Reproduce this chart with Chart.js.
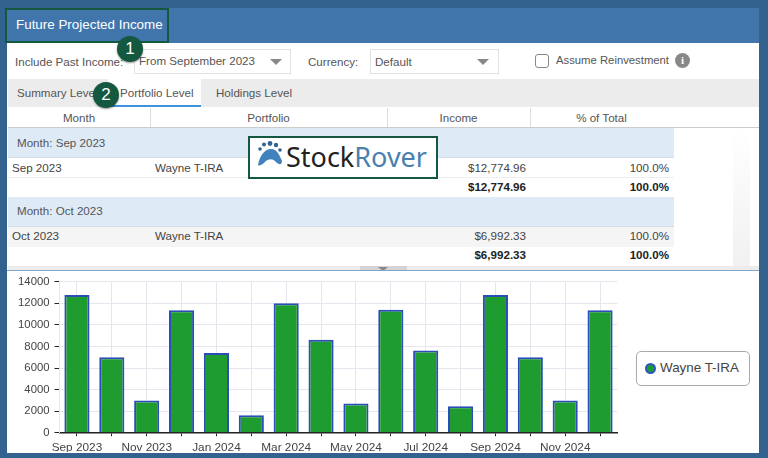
<!DOCTYPE html>
<html>
<head>
<meta charset="utf-8">
<title>Future Projected Income</title>
<script src="https://cdn.jsdelivr.net/npm/chart.js@4"></script>
<style>
html,body{margin:0;padding:0;}
body{width:768px;height:458px;overflow:hidden;background:#33628f;font-family:"Liberation Sans",Arial,sans-serif;color:#555;position:relative;}
.a{position:absolute;white-space:nowrap;}
.box{background:#fff;border:1px solid #e2e2e2;box-sizing:border-box;}
.arrow{position:absolute;width:0;height:0;border-left:6px solid transparent;border-right:6px solid transparent;border-top:6px solid #888;}
.badge{position:absolute;width:26px;height:26px;border-radius:50%;background:#14593f;color:#fff;font-size:17px;line-height:26px;text-align:center;box-shadow:0 1px 2px rgba(0,0,0,.4);}
.sep{position:absolute;top:108px;width:1px;height:19px;background:#ddd;}
.head{top:111px;font-size:11.6px;color:#555;text-align:center;}
.t{font-size:11.6px;}
.cell{font-size:11.6px;color:#444;}
.r{text-align:right;}
.b{font-weight:bold;color:#222;}
#chartBox{position:absolute;left:7px;top:270px;width:620px;height:182px;}
</style>
</head>
<body>
<!-- panel -->
<div class="a" style="left:7px;top:8px;width:752px;height:35px;background:#4176ad;"></div>
<div class="a" style="left:7px;top:43px;width:752px;height:410px;background:#fff;"></div>
<div class="a" style="left:5px;top:8px;width:164px;height:35px;box-sizing:border-box;border:2px solid #14593f;"></div>
<div class="a" style="left:16px;top:17px;font-size:13.4px;color:#fff;">Future Projected Income</div>

<!-- toolbar -->
<div class="a t" style="left:15px;top:55px;">Include Past Income:</div>
<div class="a box" style="left:134px;top:49px;width:157px;height:25px;"></div>
<div class="a t" style="left:139px;top:54px;">From September 2023</div>
<div class="arrow" style="left:270px;top:59px;"></div>
<div class="a t" style="left:308px;top:55px;">Currency:</div>
<div class="a box" style="left:370px;top:49px;width:129px;height:25px;"></div>
<div class="a t" style="left:375px;top:55px;">Default</div>
<div class="arrow" style="left:477px;top:59px;"></div>
<div class="a" style="left:535px;top:54px;width:12px;height:12px;border:1px solid #888;border-radius:3px;"></div>
<div class="a" style="left:556px;top:54px;font-size:11.3px;">Assume Reinvestment</div>
<div class="a" style="left:675px;top:53px;width:15px;height:15px;border-radius:50%;background:#888;color:#fff;font:bold 11px/15px 'Liberation Serif',serif;text-align:center;">i</div>

<!-- tabs -->
<div class="a" style="left:8px;top:79px;width:751px;height:28px;background:#ececec;"></div>
<div class="a" style="left:108px;top:79px;width:93px;height:28px;box-sizing:border-box;background:#fff;border-bottom:2px solid #3f93dc;"></div>
<div class="a t" style="left:17px;top:86px;">Summary Level</div>
<div class="a t" style="left:120px;top:86px;">Portfolio Level</div>
<div class="a t" style="left:216px;top:86px;">Holdings Level</div>

<!-- grid header -->
<div class="a" style="left:8px;top:127px;width:751px;height:1px;background:#ccc;"></div>
<div class="sep" style="left:150px;"></div>
<div class="sep" style="left:387px;"></div>
<div class="sep" style="left:530px;"></div>
<div class="a head" style="left:8px;width:142px;">Month</div>
<div class="a head" style="left:150px;width:237px;">Portfolio</div>
<div class="a head" style="left:387px;width:143px;">Income</div>
<div class="a head" style="left:530px;width:143px;">% of Total</div>

<!-- grid rows -->
<div class="a" style="left:733px;top:128px;width:17px;height:138px;background:linear-gradient(180deg,#fff 0,#f1f1f1 100%);"></div>
<div class="a" style="left:8px;top:128px;width:666px;height:30px;background:#deebf7;border-bottom:1px solid #d6dfe8;box-sizing:border-box;"></div>
<div class="a t" style="left:17px;top:136px;">Month: Sep 2023</div>
<div class="a cell" style="left:12px;top:161px;">Sep 2023</div>
<div class="a cell" style="left:155px;top:161px;">Wayne T-IRA</div>
<div class="a cell r" style="left:387px;top:161px;width:139px;">$12,774.96</div>
<div class="a cell r" style="left:530px;top:161px;width:139px;">100.0%</div>
<div class="a" style="left:8px;top:177px;width:666px;height:1px;background:#eee;"></div>
<div class="a cell r b" style="left:387px;top:180px;width:139px;">$12,774.96</div>
<div class="a cell r b" style="left:530px;top:180px;width:139px;">100.0%</div>
<div class="a" style="left:8px;top:197px;width:666px;height:30px;background:#deebf7;border-bottom:1px solid #d6dfe8;box-sizing:border-box;"></div>
<div class="a t" style="left:17px;top:204px;">Month: Oct 2023</div>
<div class="a" style="left:8px;top:227px;width:666px;height:20px;background:#f5f5f5;"></div>
<div class="a cell" style="left:12px;top:229px;">Oct 2023</div>
<div class="a cell" style="left:155px;top:229px;">Wayne T-IRA</div>
<div class="a cell r" style="left:387px;top:229px;width:139px;">$6,992.33</div>
<div class="a cell r" style="left:530px;top:229px;width:139px;">100.0%</div>
<div class="a cell r b" style="left:387px;top:248px;width:139px;">$6,992.33</div>
<div class="a cell r b" style="left:530px;top:248px;width:139px;">100.0%</div>

<!-- splitter -->
<div class="a" style="left:8px;top:266px;width:751px;height:4px;background:#ececec;"></div>
<div class="a" style="left:360px;top:266px;width:47px;height:4px;background:#d4d4d4;"></div>
<div class="arrow" style="left:378px;top:267px;border-left-width:5px;border-right-width:5px;border-top-width:4px;"></div>
<div class="a" style="left:7px;top:270px;width:752px;height:1px;background:#7ea6cc;"></div>

<!-- logo -->
<div class="a" style="left:248px;top:136px;width:190px;height:43px;box-sizing:border-box;background:#fff;border:2px solid #14593f;"></div>
<svg class="a" style="left:257px;top:141px;" width="26" height="26" viewBox="0 0 26 26">
<circle cx="7" cy="3.5" r="2" fill="#33628f"/><circle cx="13" cy="2.5" r="2.4" fill="#33628f"/><circle cx="19" cy="4" r="2.2" fill="#33628f"/>
<circle cx="3" cy="8" r="1.8" fill="#33628f"/><circle cx="23" cy="9" r="1.8" fill="#33628f"/>
<path d="M1 24 C3 14 8 8 14 8 C20 8 22 13 25 20 C25 24 22 24 19 21 C15 17 11 18 8 21 C5 24 2 25 1 24 Z" fill="#3f82bd"/>
</svg>
<div class="a" style="left:286px;top:141px;font:27px 'Noto Sans',sans-serif;line-height:32px;color:#222;">Stock<span style="color:#4a7fb0;">Rover</span></div>

<!-- badges -->
<div class="badge" style="left:117px;top:36px;">1</div>
<div class="badge" style="left:93px;top:82px;">2</div>

<!-- chart -->
<div id="chartBox"><canvas id="myChart" width="620" height="182"></canvas></div>
<div class="a" style="left:636px;top:351px;width:114px;height:35px;box-sizing:border-box;background:#fff;border:1px solid #aaa;border-radius:5px;"></div>
<div class="a" style="left:645px;top:363px;width:11px;height:11px;box-sizing:border-box;border-radius:50%;background:#1f9c2f;border:2px solid #2f55c0;"></div>
<div class="a" id="legendText" style="left:660px;top:360px;font-size:13.4px;color:#444;"></div>

<script>
var seriesName = 'Wayne T-IRA';
var months = ['Sep 2023','Oct 2023','Nov 2023','Dec 2023','Jan 2024','Feb 2024','Mar 2024','Apr 2024',
	'May 2024','Jun 2024','Jul 2024','Aug 2024','Sep 2024','Oct 2024','Nov 2024','Dec 2024'];
var income = [12774.96,6992.33,2985,11350,7385,1630,12000,8615,2710,11415,7630,2460,12774.96,6992.33,2985,11350];
var yTicks = [0,2000,4000,6000,8000,10000,12000,14000];

document.getElementById('legendText').textContent = seriesName;

var myChart = new Chart(document.getElementById('myChart'), {
	type: 'bar',
	data: {
		labels: months,
		datasets: [{
			label: seriesName,
			data: income,
			backgroundColor: '#1f9c2f',
			borderColor: '#2a4db8',
			borderWidth: 2,
			barPercentage: 0.72,
			categoryPercentage: 1
		}]
	},
	options: {
		responsive: false,
		animation: false,
		layout: {padding: {top: 6, right: 9.5, left: 0, bottom: 0}},
		plugins: {legend: {display: false}, tooltip: {enabled: false}},
		scales: {
			x: {
				afterFit: function(axis){ axis.height = 19.3; },
				border: {color: '#222', width: 1.5},
				grid: {offset: false, color: '#e6e6ee', tickColor: '#222', tickLength: 3.5, drawTicks: true},
				ticks: {
					autoSkip: false, maxRotation: 0, padding: 4,
					color: '#444', font: {family: 'Liberation Sans', size: 11.8},
					callback: function(v, i){ return i % 2 == 0 ? months[i] : ''; }
				}
			},
			y: {
				min: 0, max: 14000,
				afterFit: function(axis){ axis.width = 52.5; },
				afterBuildTicks: function(axis){ axis.ticks = yTicks.map(function(v){ return {value: v}; }); },
				border: {color: '#e6e6ee'},
				grid: {color: '#e6e6ee', tickColor: '#222', tickLength: 5},
				ticks: {
					autoSkip: false, padding: 5,
					color: '#444', font: {family: 'Liberation Sans', size: 11.3},
					callback: function(v){ return String(v); }
				}
			}
		}
	}
});
</script>
</body>
</html>
